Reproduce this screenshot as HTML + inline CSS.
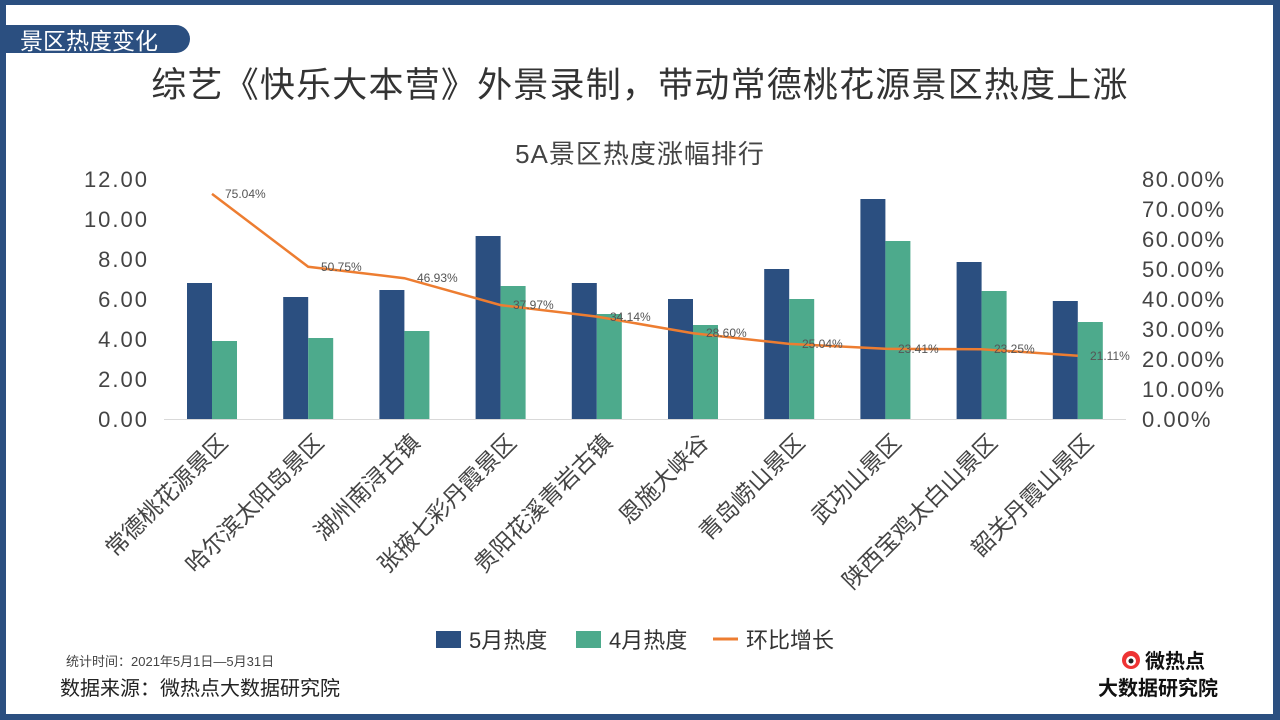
<!DOCTYPE html><html><head><meta charset="utf-8"><style>
body{margin:0;width:1280px;height:720px;overflow:hidden;background:#fff;font-family:"Liberation Sans","Noto Sans CJK SC",sans-serif;}
.frame{position:absolute;left:0;top:0;width:1280px;height:720px;box-sizing:border-box;border:solid #2b4f80;border-width:5px 7px 6px 6px;}
</style></head><body>
<div class="frame"></div>
<div style="position:absolute;left:6px;top:25px;width:184px;height:28px;background:#2b4f80;border-radius:0 14px 14px 0;color:#fff;font-size:23px;line-height:28px;padding-left:14px;box-sizing:border-box;font-family:'Noto Sans CJK SC',sans-serif">景区热度变化</div>
<div style="position:absolute;left:0;width:1280px;top:57px;text-align:center;font-size:35px;letter-spacing:1.2px;color:#333;font-family:'Noto Sans CJK SC',sans-serif">综艺《快乐大本营》外景录制，带动常德桃花源景区热度上涨</div>
<svg width="1280" height="720" style="position:absolute;left:0;top:0" font-family="Liberation Sans, Noto Sans CJK SC, sans-serif">
<text x="640" y="163" text-anchor="middle" font-size="26" fill="#444" letter-spacing="1">5A景区热度涨幅排行</text>
<g font-size="22" fill="#444" text-anchor="end" letter-spacing="2">
<text x="149" y="427">0.00</text><text x="149" y="387">2.00</text><text x="149" y="347">4.00</text><text x="149" y="307">6.00</text><text x="149" y="267">8.00</text><text x="149" y="227">10.00</text><text x="149" y="187">12.00</text>
</g>
<g font-size="22" fill="#444" letter-spacing="1.5">
<text x="1142" y="427">0.00%</text><text x="1142" y="397">10.00%</text><text x="1142" y="367">20.00%</text><text x="1142" y="337">30.00%</text><text x="1142" y="307">40.00%</text><text x="1142" y="277">50.00%</text><text x="1142" y="247">60.00%</text><text x="1142" y="217">70.00%</text><text x="1142" y="187">80.00%</text>
</g>
<line x1="164" y1="419.5" x2="1126" y2="419.5" stroke="#d9d9d9"/>
<g fill="#2b4f80">
<rect x="187" y="283" width="25" height="136"/>
<rect x="283.2" y="297" width="25" height="122"/>
<rect x="379.4" y="290" width="25" height="129"/>
<rect x="475.6" y="236" width="25" height="183"/>
<rect x="571.8" y="283" width="25" height="136"/>
<rect x="668" y="299" width="25" height="120"/>
<rect x="764.2" y="269" width="25" height="150"/>
<rect x="860.4" y="199" width="25" height="220"/>
<rect x="956.6" y="262" width="25" height="157"/>
<rect x="1052.8" y="301" width="25" height="118"/>
</g>
<g fill="#4daa8c">
<rect x="212" y="341" width="25" height="78"/>
<rect x="308.2" y="338" width="25" height="81"/>
<rect x="404.4" y="331" width="25" height="88"/>
<rect x="500.6" y="286" width="25" height="133"/>
<rect x="596.8" y="314" width="25" height="105"/>
<rect x="693" y="325" width="25" height="94"/>
<rect x="789.2" y="299" width="25" height="120"/>
<rect x="885.4" y="241" width="25" height="178"/>
<rect x="981.6" y="291" width="25" height="128"/>
<rect x="1077.8" y="322" width="25" height="97"/>
</g>
<polyline points="212,193.9 308.2,266.75 404.4,278.2 500.6,305.1 596.8,316.6 693,333.2 789.2,343.9 885.4,348.8 981.6,349.25 1077.8,355.7" fill="none" stroke="#ed7d31" stroke-width="2.5"/>
<g font-size="12" fill="#555">
<text x="225" y="198">75.04%</text>
<text x="321" y="271">50.75%</text>
<text x="417" y="282">46.93%</text>
<text x="513" y="309">37.97%</text>
<text x="610" y="321">34.14%</text>
<text x="706" y="337">28.60%</text>
<text x="802" y="348">25.04%</text>
<text x="898" y="353">23.41%</text>
<text x="994" y="353">23.25%</text>
<text x="1090" y="360">21.11%</text>
</g>
<g font-size="23" fill="#444" text-anchor="end">
<text transform="translate(229,444) rotate(-45)">常德桃花源景区</text>
<text transform="translate(325.2,444) rotate(-45)">哈尔滨太阳岛景区</text>
<text transform="translate(421.4,444) rotate(-45)">湖州南浔古镇</text>
<text transform="translate(517.6,444) rotate(-45)">张掖七彩丹霞景区</text>
<text transform="translate(613.8,444) rotate(-45)">贵阳花溪青岩古镇</text>
<text transform="translate(710,444) rotate(-45)">恩施大峡谷</text>
<text transform="translate(806.2,444) rotate(-45)">青岛崂山景区</text>
<text transform="translate(902.4,444) rotate(-45)">武功山景区</text>
<text transform="translate(998.6,444) rotate(-45)">陕西宝鸡太白山景区</text>
<text transform="translate(1094.8,444) rotate(-45)">韶关丹霞山景区</text>
</g>
<rect x="436" y="631" width="25" height="17" fill="#2b4f80"/><text x="469" y="648" font-size="22" fill="#333">5月热度</text>
<rect x="576" y="631" width="25" height="17" fill="#4daa8c"/><text x="609" y="648" font-size="22" fill="#333">4月热度</text>
<line x1="713" y1="639" x2="738" y2="639" stroke="#ed7d31" stroke-width="3"/><text x="746" y="648" font-size="22" fill="#333">环比增长</text>
<text x="66" y="666" font-size="13" fill="#444">统计时间：2021年5月1日—5月31日</text>
<text x="60" y="695" font-size="20" fill="#222">数据来源：微热点大数据研究院</text>
<circle cx="1131" cy="660" r="9" fill="#e33"/><circle cx="1131" cy="661" r="5" fill="#fff"/><circle cx="1131" cy="661" r="2.5" fill="#222"/>
<text x="1145" y="668" font-size="20" font-weight="bold" fill="#111">微热点</text>
<text x="1098" y="695" font-size="20" font-weight="bold" fill="#111">大数据研究院</text>
</svg>
</body></html>
